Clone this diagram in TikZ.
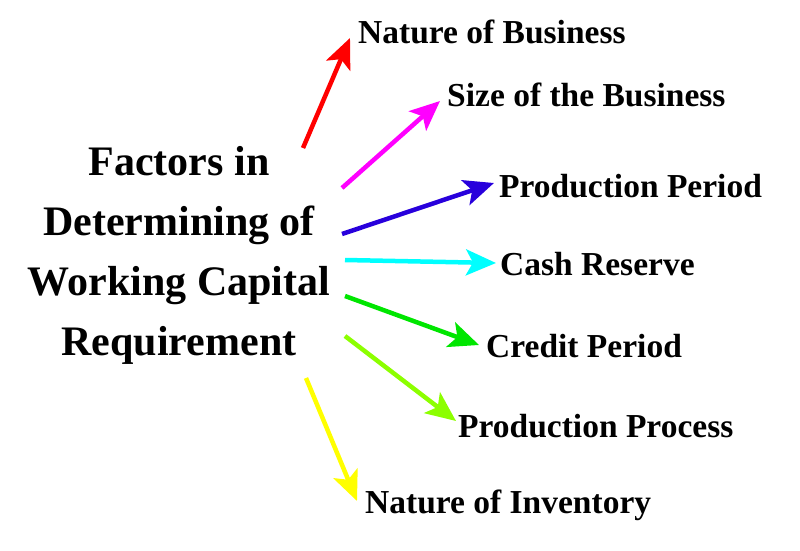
\documentclass[tikz,border=0pt]{standalone}
\usepackage{fontspec}
\setmainfont{Liberation Serif}
\usetikzlibrary{arrows.meta}
\definecolor{cmag}{RGB}{255,0,255}
\definecolor{ccyan}{RGB}{0,255,255}
\definecolor{cblue}{RGB}{40,0,220}
\definecolor{cgreen}{RGB}{0,230,0}
\definecolor{clime}{RGB}{140,255,0}
\definecolor{cyel}{RGB}{255,255,0}
\definecolor{cred}{RGB}{255,0,0}
\begin{document}
\begin{tikzpicture}[x=1pt,y=-1pt,
  lbl/.style={anchor=west,inner sep=0pt,font=\bfseries\fontsize{33.5}{33.5}\selectfont},
  arr/.style={line width=4.5pt,-{Stealth[length=30pt,width=26pt,inset=7pt]}}]
\useasboundingbox (0,0) rectangle (800,551);
\node[align=center,font=\bfseries\fontsize{42}{60}\selectfont] (main) at (179,255) {Factors in\\Determining of\\Working Capital\\Requirement};
\node[lbl] (a) at (358,32) {Nature of Business};
\node[lbl] (b) at (447,95) {Size of the Business};
\node[lbl] (c) at (499,186) {Production Period};
\node[lbl] (d) at (500,264) {Cash Reserve};
\node[lbl] (e) at (486,346) {Credit Period};
\node[lbl] (f) at (458,426) {Production Process};
\node[lbl] (g) at (365,505) {Nature of Inventory};
\coordinate (ta) at (303,148); \coordinate (ha) at (350,38);
\coordinate (tb) at (342,188); \coordinate (hb) at (440,101);
\coordinate (tc) at (342,234); \coordinate (hc) at (494,183);
\coordinate (td) at (345,260); \coordinate (hd) at (496,263);
\coordinate (te) at (345,296); \coordinate (he) at (479,345);
\coordinate (tf) at (345,336); \coordinate (hf) at (456,421);
\coordinate (tg) at (306,378); \coordinate (hg) at (357,501);
\draw[arr,cred] (ta) -- (ha);
\draw[arr,cmag] (tb) -- (hb);
\draw[arr,cblue] (tc) -- (hc);
\draw[arr,ccyan] (td) -- (hd);
\draw[arr,cgreen] (te) -- (he);
\draw[arr,clime] (tf) -- (hf);
\draw[arr,cyel] (tg) -- (hg);
\end{tikzpicture}
\end{document}
